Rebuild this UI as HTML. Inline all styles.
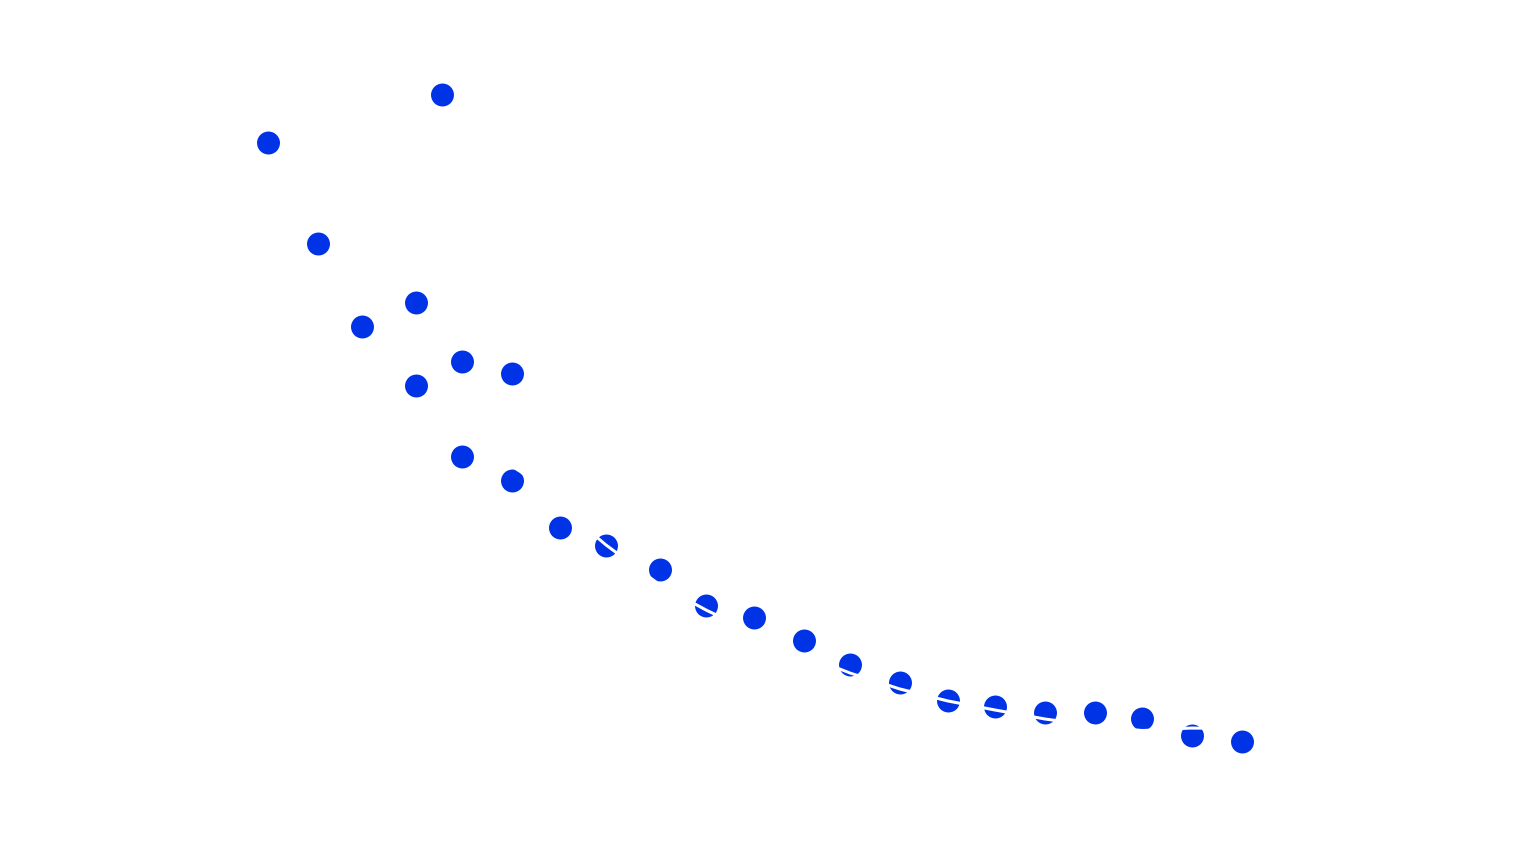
<!DOCTYPE html>
<html><head><meta charset="utf-8"><style>
html,body{margin:0;padding:0;background:#fff;width:1536px;height:866px;overflow:hidden}
svg{display:block}
</style></head><body>
<svg width="1536" height="866" viewBox="0 0 1536 866" xmlns="http://www.w3.org/2000/svg">
<rect width="1536" height="866" fill="#fff"/>
<g fill="#0033e6">
<circle cx="268.5" cy="143" r="11.5"/>
<circle cx="442.5" cy="95" r="11.5"/>
<circle cx="318.5" cy="244" r="11.5"/>
<circle cx="362.5" cy="327" r="11.5"/>
<circle cx="416.5" cy="303" r="11.5"/>
<circle cx="416.5" cy="386" r="11.5"/>
<circle cx="462.5" cy="362" r="11.5"/>
<circle cx="512.5" cy="374" r="11.5"/>
<circle cx="462.5" cy="457" r="11.5"/>
<circle cx="512.5" cy="481" r="11.5"/>
<circle cx="560.5" cy="528" r="11.5"/>
<circle cx="606.5" cy="546" r="11.5"/>
<circle cx="660.5" cy="570" r="11.5"/>
<circle cx="706.5" cy="606" r="11.5"/>
<circle cx="754.5" cy="618" r="11.5"/>
<circle cx="804.5" cy="641" r="11.5"/>
<circle cx="850.5" cy="665" r="11.5"/>
<circle cx="900.5" cy="683" r="11.5"/>
<circle cx="948.5" cy="701" r="11.5"/>
<circle cx="995.5" cy="707" r="11.5"/>
<circle cx="1045.5" cy="713" r="11.5"/>
<circle cx="1095.5" cy="713" r="11.5"/>
<circle cx="1142.5" cy="719" r="11.5"/>
<circle cx="1192.5" cy="736" r="11.5"/>
<circle cx="1242.5" cy="742" r="11.5"/>
</g>
<path d="M480,446 L521,472 L560,506 L606,545 L660,585 L706,610 L754,633 L804,655 L850,673 L900,689 L948,701 L995,710 L1045,719 L1095,726 L1142,730.5 L1192,728 L1242,729 L1280,729" fill="none" stroke="#fff" stroke-width="3"/>
</svg>
</body></html>
